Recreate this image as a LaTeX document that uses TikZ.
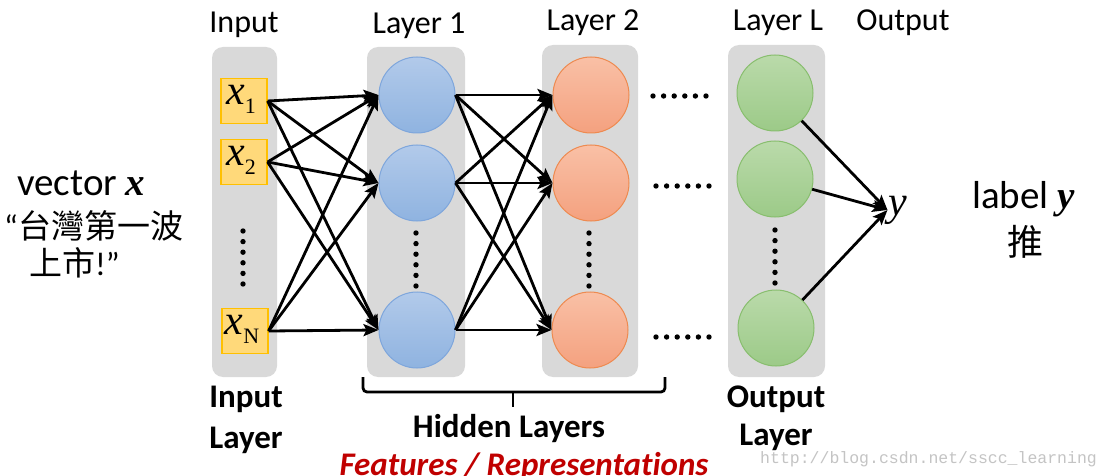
\documentclass[tikz,border=0pt]{standalone}
\usepackage{fontspec}
\setmainfont{Carlito}[Ligatures=NoCommon]
\newfontfamily\cjk{Noto Sans CJK TC}
\newfontfamily\tms{Liberation Serif}
\newfontfamily\wmono{Liberation Mono}
\usetikzlibrary{arrows.meta}
\definecolor{boxgray}{HTML}{D9D9D9}
\definecolor{inF}{HTML}{FFD97A}
\definecolor{inB}{HTML}{FFC000}
\definecolor{blT}{HTML}{B2CAEA}
\definecolor{blBt}{HTML}{8FB3E0}
\definecolor{blB}{HTML}{7EA6DC}
\definecolor{orT}{HTML}{F9C0A6}
\definecolor{orBt}{HTML}{F4A17F}
\definecolor{orB}{HTML}{EE8A50}
\definecolor{grT}{HTML}{BADAAA}
\definecolor{grBt}{HTML}{9CCA88}
\definecolor{grB}{HTML}{88BE6E}
\definecolor{featred}{HTML}{C00000}
\definecolor{wmgray}{HTML}{C4C4C4}
\begin{document}
\begin{tikzpicture}[x=1pt,y=-1pt,
  lbox/.style={fill=boxgray, rounded corners=11pt},
  inbox/.style={draw=inB, fill=inF, line width=1.2pt, minimum width=46pt, minimum height=45pt, inner sep=0pt},
  neuron/.style={circle, minimum size=76pt, inner sep=0pt, line width=1pt},
  nblue/.style={neuron, draw=blB, top color=blT, bottom color=blBt},
  norange/.style={neuron, draw=orB, top color=orT, bottom color=orBt},
  ngreen/.style={neuron, draw=grB, top color=grT, bottom color=grBt},
  conn/.style={line width=2.8pt, -{Stealth[length=15pt,width=12pt,inset=3pt]}},
  toplab/.style={font=\fontsize{32}{36}\selectfont, anchor=base, inner sep=0pt},
  botlab/.style={font=\fontsize{33}{36}\selectfont\bfseries, anchor=base, inner sep=0pt},
  sidelab/.style={font=\fontsize{39}{40}\selectfont, anchor=base west, inner sep=0pt},
  xvar/.style={font=\fontsize{42}{44}\selectfont\tms\itshape, inner sep=0pt},
  brace/.style={line width=2.8pt},
]
\useasboundingbox (0,0) rectangle (1112,476);
\clip (0,0) rectangle (1112,476);
\fill[white] (0,0) rectangle (1112,476);

% layer backgrounds
\fill[lbox] (212,47) rectangle (277,377);
\fill[lbox] (367,47) rectangle (465,377);
\fill[lbox] (542,45) rectangle (638,377);
\fill[lbox] (728,45) rectangle (825,377);

% input units
\node[inbox] (x1) at (244,101) {};
\node[inbox] (x2) at (244,162) {};
\node[inbox] (xN) at (245,331) {};
\node[xvar] (x1t) at (241,99) {x\raisebox{-9pt}{\fontsize{22}{22}\selectfont\upshape 1}};
\node[xvar] (x2t) at (241,160) {x\raisebox{-9pt}{\fontsize{22}{22}\selectfont\upshape 2}};
\node[xvar] (xNt) at (242,329) {x\raisebox{-9pt}{\fontsize{22}{22}\selectfont\upshape N}};

% neurons
\node[nblue] (h1) at (417,95) {};
\node[nblue] (h2) at (417,183) {};
\node[nblue] (h3) at (417,330) {};
\node[norange] (g1) at (591,95) {};
\node[norange] (g2) at (591,183) {};
\node[norange] (g3) at (590,330) {};
\node[ngreen] (o1) at (775,93) {};
\node[ngreen] (o2) at (775,179) {};
\node[ngreen] (o3) at (776,328) {};

% vertical dots
\foreach \xx/\ya in {243/231, 416/233, 589/233, 775/230}{
  \foreach \i in {0,...,5}{
    \fill (\xx,\ya+\i*10.6) circle (2.7pt);
  }
}
% horizontal dots
\foreach \xa/\yy in {653/96, 656/186, 656/337}{
  \foreach \i in {0,...,5}{
    \fill (\xa+\i*10.6,\yy) circle (2.7pt);
  }
}

% output y
\node[font=\fontsize{42}{44}\selectfont\tms\itshape, inner sep=1pt] (y) at (898,210) {y};

% connections
\foreach \s in {x1,x2,xN}{
  \foreach \t in {h1,h2,h3}{
    \draw[conn] (\s.east) -- (\t.west);
  }
}
\foreach \s in {h1,h2,h3}{
  \foreach \t in {g1,g2,g3}{
    \draw[conn] (\s.east) -- (\t.west);
  }
}
\foreach \s in {o1,o2,o3}{
  \draw[conn] (\s) -- (y.west);
}

% top labels
\node[toplab] (tin) at (244,33) {Input};
\node[toplab] (tl1) at (419,34) {Layer 1};
\node[toplab] (tl2) at (593,31) {Layer 2};
\node[toplab] (tlL) at (778,31) {Layer L};
\node[toplab] (tout) at (903,31) {Output};

% bottom labels
\node[botlab] (bin1) at (246,407) {Input};
\node[botlab] (bin2) at (246,448) {Layer};
\node[botlab] (bout1) at (776,407) {Output};
\node[botlab] (bout2) at (776,445) {Layer};
\node[botlab] (hid) at (509,437) {Hidden Layers};
\node[font=\fontsize{33}{36}\selectfont\bfseries\itshape, text=featred, anchor=base, inner sep=0pt] (feat) at (524,475) {Features / Representations};

% brace
\draw[brace, rounded corners=4pt] (363,377) -- (363,392) -- (665,392) -- (665,377);
\draw[brace] (513,392) -- (513,407);

% side texts
\node[sidelab] (vec) at (17,196) {vector {\tms\bfseries\itshape x}};
\node[sidelab, font=\fontsize{33}{38}\selectfont] (vec2) at (4,238) {“{\cjk 台灣第一波}};
\node[sidelab, font=\fontsize{33}{38}\selectfont] (vec3) at (29,275) {{\cjk 上市}!”};
\node[sidelab] (lab) at (972,208) {label {\tms\bfseries\itshape y}};
\node[font=\fontsize{36}{38}\selectfont\cjk, anchor=base, inner sep=0pt] (lab2) at (1025,255) {推};

% watermark
\node[font=\fontsize{16.5}{18}\selectfont\wmono, text=wmgray, anchor=base west, inner sep=0pt] (wm) at (760,463) {http://blog.csdn.net/sscc\_learning};
\end{tikzpicture}
\end{document}
